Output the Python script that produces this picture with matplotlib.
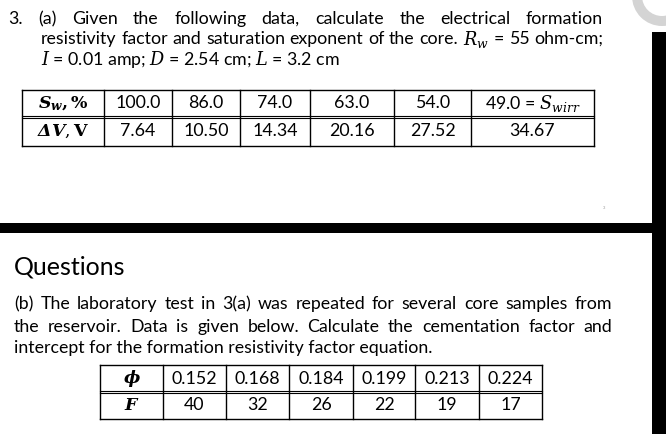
import matplotlib
matplotlib.use("Agg")
from matplotlib import pyplot as plt
from matplotlib.patches import Rectangle, Circle

plt.rcParams["font.family"] = ["Lato", "DejaVu Sans"]
plt.rcParams["mathtext.fontset"] = "dejavuserif"

# table (a)
sw_values = ["100.0", "86.0", "74.0", "63.0", "54.0", r"49.0 = $S_{wirr}$"]
dv_values = ["7.64", "10.50", "14.34", "20.16", "27.52", "34.67"]
# table (b)
phi_values = ["0.152", "0.168", "0.184", "0.199", "0.213", "0.224"]
f_values = ["40", "32", "26", "22", "19", "17"]

W, H = 666, 434
fig = plt.figure(figsize=(W / 100, H / 100), dpi=100)
ax = fig.add_axes([0, 0, 1, 1])
ax.set_xlim(0, W)
ax.set_ylim(H, 0)
ax.axis("off")

FS = 12.8


def justify(words, x0, x1, y, fs=FS):
    # place words so the line fills x0..x1
    r = fig.canvas.get_renderer()
    inv = ax.transData.inverted()
    arts, widths = [], []
    for w in words:
        t = ax.text(0, y, w, fontsize=fs, va="center", ha="left")
        bb = t.get_window_extent(renderer=r)
        p0 = inv.transform((bb.x0, bb.y0))
        p1 = inv.transform((bb.x1, bb.y0))
        widths.append(p1[0] - p0[0])
        arts.append(t)
    gap = (x1 - x0 - sum(widths)) / max(len(words) - 1, 1)
    x = x0
    for t, w in zip(arts, widths):
        t.set_x(x)
        x += w + gap


def draw_table(cols, y0, y1, ymid, header, rows, hfs=12.5):
    for x in cols:
        ax.plot([x, x], [y0, y1], color="black", lw=1)
    ax.plot([cols[0], cols[-1]], [y0, y0], color="black", lw=1)
    ax.plot([cols[0], cols[-1]], [y1, y1], color="black", lw=1)
    ax.plot([cols[0], cols[-1]], [ymid - 1, ymid - 1], color="black", lw=0.8)
    ax.plot([cols[0], cols[-1]], [ymid + 1, ymid + 1], color="black", lw=0.8)
    ys = [(y0 + ymid) / 2, (ymid + y1) / 2]
    for r, (hd, vals) in enumerate(zip(header, rows)):
        ax.text((cols[0] + cols[1]) / 2, ys[r], hd, fontsize=hfs, ha="center", va="center")
        for i, v in enumerate(vals):
            ax.text((cols[i + 1] + cols[i + 2]) / 2, ys[r], v, fontsize=FS,
                    ha="center", va="center")


# part (a)
justify(["3.", "(a)", "Given", "the", "following", "data,", "calculate", "the",
         "electrical", "formation"], 8, 603, 19)
justify(["resistivity", "factor", "and", "saturation", "exponent", "of", "the",
         "core.", r"$R_w$", "=", "55", "ohm-cm;"], 41, 603, 39)
ax.text(41, 60, r"$I$ = 0.01 amp; $D$ = 2.54 cm; $L$ = 3.2 cm", fontsize=FS, va="center")

draw_table([22, 104, 172, 240, 310, 394, 471, 594], 90, 146, 117,
           [r"$\mathbfit{S_w}\mathbf{,\%}$", r"$\mathbfit{\Delta V},\mathbf{V}$"],
           [sw_values, dv_values])

# decorations from the screenshot
ax.add_patch(Circle((662, -4), 30, facecolor="#d4d4d4", edgecolor="none"))
ax.add_patch(Circle((662, -4), 20, facecolor="white", edgecolor="none"))
ax.add_patch(Rectangle((652, 32), 14, H - 32, facecolor="black"))
ax.add_patch(Rectangle((0, 223), 660, 10, facecolor="black"))
ax.text(604, 208, "3", fontsize=3, color="#999999", ha="center", va="center")

# part (b)
ax.text(14, 267, "Questions", fontsize=18, va="center")
justify(["(b)", "The", "laboratory", "test", "in", "3(a)", "was", "repeated", "for",
         "several", "core", "samples", "from"], 14, 612, 304)
justify(["the", "reservoir.", "Data", "is", "given", "below.", "Calculate", "the",
         "cementation", "factor", "and"], 14, 612, 327)
ax.text(14, 348, "intercept for the formation resistivity factor equation.",
        fontsize=FS, va="center")

draw_table([100, 163, 226, 289, 353, 415, 479, 542], 365, 419, 392,
           [r"$\boldsymbol{\phi}$", r"$\mathbfit{F}$"],
           [phi_values, f_values])

fig.savefig("out.png", dpi=100)
